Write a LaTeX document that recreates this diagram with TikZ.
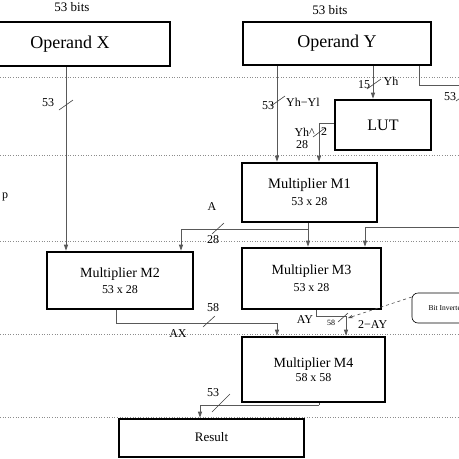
\documentclass[tikz,border=0pt]{standalone}
\usepackage{fontspec}
\setmainfont{Liberation Serif}
\usetikzlibrary{arrows.meta}
\begin{document}
\begin{tikzpicture}[x=1pt,y=-1pt,
  blk/.style={draw=black,line width=2.6pt,fill=none,inner sep=0pt,align=center},
  conn/.style={draw=black!65,line width=0.9pt},
  arr/.style={conn,-{Triangle[length=6pt,width=4pt]}},
  slash/.style={draw=black!75,line width=0.6pt},
  guide/.style={draw=black!45,line width=0.6pt,dotted},
  lbl/.style={inner sep=0pt,font=\fontsize{12}{14}\selectfont}]
\useasboundingbox (0,0) rectangle (459,459);
\clip (0,0) rectangle (459,459);
% guide lines
\foreach \yy in {77,155,241,334,417} \draw[guide] (0,\yy) -- (459,\yy);
% boxes
\node[blk,font=\fontsize{18}{21}\selectfont,minimum width=200pt,minimum height=44pt] (ox) at (70,44) {Operand X};
\node[blk,font=\fontsize{18}{21}\selectfont,minimum width=188pt,minimum height=43pt] (oy) at (337,43.5) {Operand Y};
\node[blk,font=\fontsize{16}{19}\selectfont,minimum width=96pt,minimum height=50pt] (lut) at (383,125) {LUT};
\node[blk,minimum width=135pt,minimum height=59pt] (m1) at (309.5,192.5) {{\fontsize{14.5}{17}\selectfont Multiplier M1}\\[5pt]{\fontsize{12}{14}\selectfont 53 x 28}};
\node[blk,minimum width=146pt,minimum height=57pt] (m2) at (120,280.5) {{\fontsize{14}{17}\selectfont Multiplier M2}\\[4pt]{\fontsize{12}{14}\selectfont 53 x 28}};
\node[blk,minimum width=139pt,minimum height=61pt] (m3) at (311.5,278.5) {{\fontsize{14}{17}\selectfont Multiplier M3}\\[5pt]{\fontsize{12}{14}\selectfont 53 x 28}};
\node[blk,minimum width=143pt,minimum height=65pt] (m4) at (313.5,369.5) {{\fontsize{14}{17}\selectfont Multiplier M4}\\[2pt]{\fontsize{12}{14}\selectfont 58 x 58}};
\node[blk,font=\fontsize{13}{15}\selectfont,minimum width=185pt,minimum height=38pt] (res) at (211.5,438) {\raisebox{3pt}{Result}};
\node[draw=black,line width=0.6pt,rounded corners=6pt,minimum width=68pt,minimum height=30pt,inner sep=0pt,font=\fontsize{7.5}{9}\selectfont] (bit) at (446,308) {Bit Inverter};
% top labels
\node[font=\fontsize{13}{15}\selectfont] (bx) at (72,7) {53 bits};
\node[font=\fontsize{13}{15}\selectfont] (by) at (330,10) {53 bits};
\node[lbl] (p) at (5,197) {p};
% Operand X to M2
\draw[arr] (ox.south -| 66,0) -- (m2.north -| 66,0);
\draw[slash] (59,110) -- (73,100);
\node[lbl] (l53x) at (48,103) {53};
% Operand Y to M1
\draw[arr] (oy.south -| 277,0) -- (m1.north -| 277,0);
\draw[slash] (271,106) -- (285,96);
\node[lbl] (l53y) at (268,106) {53};
\node[lbl,anchor=west] (lyhyl) at (286,102) {Yh−Yl};
% Operand Y to LUT
\draw[arr] (oy.south -| 373,0) -- (lut.north -| 373,0);
\draw[slash] (367,89) -- (381,79);
\node[lbl] (l15) at (364,85) {15};
\node[lbl] (lyh) at (391,81) {Yh};
% Operand Y right branch around to M3
\coordinate (re) at (465,85);
\coordinate (re2) at (465,227);
\draw[conn] (oy.south -| 419,0) |- (re);
\node[lbl] (l53r) at (450,97) {53};
\draw[slash] (456,101) -- (466,94);
\draw[arr] (re2) -| (m3.north -| 365,0);
% LUT to M1
\draw[arr] (lut.west |- 0,123) -| (m1.north -| 319,0);
\draw[slash] (313,137) -- (325,128);
\node[lbl,anchor=east] (lyh2) at (315,132) {Yh\^{}};
\node[lbl,anchor=west] (l2) at (321,132) {2};
\node[lbl] (l28a) at (302,145) {28};
% M1 to M3 and M2
\draw[arr] (m1.south -| 308,0) -- (m3.north -| 308,0);
\coordinate (b1) at (308,229);
\draw[arr] (b1) -| (m2.north -| 181,0);
\draw[slash] (212,234) -- (224,223);
\node[lbl] (lA) at (212,207) {A};
\node[lbl] (l28b) at (213,240) {28};
% M2 to M4
\coordinate (c2) at (116,323);
\draw[conn] (m2.south -| 116,0) -- (c2);
\draw[arr] (c2) -| (m4.north -| 277,0);
\draw[slash] (203,327) -- (215,316);
\node[lbl] (l58a) at (213,308) {58};
\node[lbl] (lAX) at (178,334) {AX};
% M3 to M4
\coordinate (c3) at (316,316);
\draw[conn] (m3.south -| 316,0) -- (c3);
\draw[arr] (c3) -| (m4.north -| 346,0);
\draw[slash] (338,322) -- (348,313);
\node[inner sep=0pt,font=\fontsize{8}{9}\selectfont] (l58b) at (331,323) {58};
\node[lbl] (lAY) at (305,320) {AY};
\node[lbl,anchor=west] (l2AY) at (358,325) {2−AY};
\coordinate (inv) at (348,318);
\draw[draw=black!70,line width=0.6pt,dashed,-{Stealth[length=5pt,width=3.5pt]}] (bit.west |- 0,297) -- (inv);
% M4 to Result
\coordinate (c4) at (319,405);
\draw[conn] (m4.south -| 319,0) -- (c4);
\draw[arr] (c4) -| (res.north -| 200,0);
\draw[slash] (212,412) -- (230,394);
\node[lbl] (l53c) at (213,393) {53};
\end{tikzpicture}
\end{document}
